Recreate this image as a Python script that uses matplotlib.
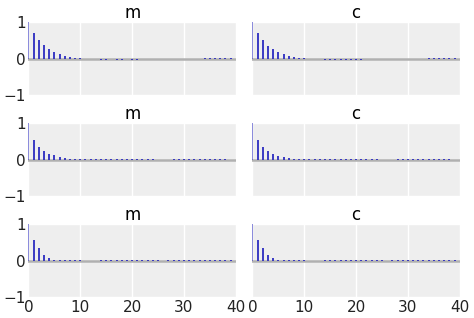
import numpy as np
import matplotlib.pyplot as plt

# autocorrelation per lag (lags 0..39)
lags = list(range(40))
titles = ["m", "c", "m", "c", "m", "c"]

acf_m1 = [1.00, 0.72, 0.52, 0.37, 0.27, 0.19, 0.13, 0.08, 0.05, 0.02,
          0.01, -0.01, -0.01, -0.01, -0.02, -0.02, -0.01, -0.02, -0.02, -0.01,
          -0.02, -0.02, -0.01, -0.01, -0.01, -0.01, -0.01, -0.01, -0.01, 0.00,
          0.00, 0.00, 0.00, 0.00, 0.01, 0.01, 0.01, 0.01, 0.01, 0.01]
acf_c1 = [1.00, 0.72, 0.51, 0.36, 0.27, 0.18, 0.12, 0.07, 0.04, 0.02,
          0.01, -0.01, -0.01, -0.01, -0.02, -0.02, -0.02, -0.02, -0.02, -0.02,
          -0.02, -0.02, -0.01, -0.01, -0.01, -0.01, -0.01, -0.01, -0.01, 0.00,
          0.00, 0.00, 0.00, 0.00, 0.01, 0.01, 0.01, 0.01, 0.01, 0.01]
acf_m2 = [1.00, 0.55, 0.36, 0.25, 0.17, 0.12, 0.07, 0.04, 0.02, 0.01,
          0.01, 0.01, 0.01, 0.01, 0.01, 0.01, 0.01, 0.01, 0.01, 0.01,
          0.01, 0.01, 0.01, 0.01, 0.01, 0.00, 0.00, 0.00, 0.01, 0.02,
          0.02, 0.01, 0.01, 0.01, 0.01, 0.01, 0.01, 0.01, 0.01, 0.00]
acf_c2 = [1.00, 0.55, 0.35, 0.24, 0.16, 0.11, 0.07, 0.04, 0.02, 0.01,
          0.01, 0.01, 0.01, 0.01, 0.01, 0.01, 0.01, 0.01, 0.01, 0.01,
          0.01, 0.01, 0.01, 0.01, 0.01, 0.00, 0.00, 0.00, 0.01, 0.02,
          0.02, 0.01, 0.01, 0.01, 0.01, 0.01, 0.01, 0.01, 0.01, 0.00]
acf_m3 = [1.00, 0.57, 0.35, 0.17, 0.07, 0.02, 0.01, 0.03, 0.01, 0.01,
          0.01, 0.00, -0.01, 0.00, 0.01, 0.01, 0.01, 0.01, 0.01, 0.01,
          0.01, 0.01, 0.01, 0.02, 0.01, 0.01, 0.00, 0.01, 0.01, 0.01,
          0.01, 0.01, 0.01, 0.01, 0.01, 0.02, 0.02, 0.02, 0.01, 0.01]
acf_c3 = [1.00, 0.57, 0.34, 0.17, 0.07, 0.02, 0.01, 0.03, 0.01, 0.01,
          0.01, 0.00, -0.01, 0.00, 0.01, 0.01, 0.01, 0.01, 0.01, 0.01,
          0.01, 0.01, 0.01, 0.02, 0.01, 0.01, 0.00, 0.01, 0.01, 0.01,
          0.01, 0.01, 0.01, 0.01, 0.01, 0.02, 0.02, 0.02, 0.01, 0.01]
series = [acf_m1, acf_c1, acf_m2, acf_c2, acf_m3, acf_c3]

fig, axes = plt.subplots(3, 2, figsize=(4.74, 3.18), dpi=100,
                         sharex=True, sharey=True)
fig.subplots_adjust(left=0.06, right=0.97, top=0.93, bottom=0.065,
                    wspace=0.08, hspace=0.38)

for ax, vals, title in zip(axes.flat, series, titles):
    ax.set_facecolor("#eeeeee")
    ax.grid(True, color="white", linewidth=1.0)
    ax.set_axisbelow(True)
    for s in ax.spines.values():
        s.set_visible(False)
    ax.axhline(0, color="#b0b0b0", linewidth=1.8, zorder=1)
    ax.vlines(lags[1:], 0, vals[1:], color="#2c2cc0", linewidth=1.3, zorder=2)
    ax.vlines(lags[0], 0, vals[0], color="#2c2cc0", linewidth=1.3,
              alpha=0.6, zorder=2)
    ax.set_title(title, fontsize=12, pad=3)
    ax.set_xlim(0, 40)
    ax.set_ylim(-1, 1)
    ax.set_xticks([0, 10, 20, 30, 40])
    ax.set_yticks([-1, 0, 1])
    ax.tick_params(length=0, labelsize=11, pad=2, labelcolor="#222222")

plt.savefig("out.png", dpi=100)
